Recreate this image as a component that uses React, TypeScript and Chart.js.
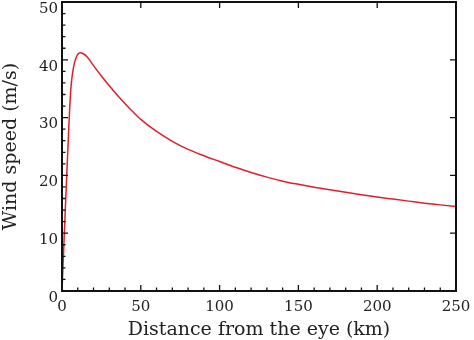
import React, { useEffect, useRef } from "react";
import { Chart, registerables } from "chart.js";

Chart.register(...registerables);

const distanceKm = [0, 1, 2, 3, 4, 4.8, 5.8, 7.3, 9, 11.6, 13.7, 16, 20, 25, 30, 35, 40, 45, 50, 60, 70, 80, 90, 100, 110, 120, 130, 140, 150, 160, 170, 180, 190, 200, 210, 220, 230, 240, 250];
const windSpeed = [0, 6.8, 13.5, 20, 26.3, 31.2, 35.6, 38.7, 40.4, 41.2, 41.0, 40.5, 39.0, 37.2, 35.5, 33.9, 32.4, 31.0, 29.7, 27.6, 25.9, 24.5, 23.4, 22.4, 21.4, 20.5, 19.7, 19.0, 18.45, 17.95, 17.5, 17.1, 16.65, 16.25, 15.9, 15.55, 15.2, 14.9, 14.6];

const xTicks = [0, 50, 100, 150, 200, 250];
const yTicks = [0, 10, 20, 30, 40, 50];
const xMinorStep = 10;
const yMinorStep = 2;

const xTitle = "Distance from the eye (km)";
const yTitle = "Wind speed (m/s)";

const FONT = "'DejaVu Serif', serif";
const TEXT = "#222";

const framePlugin = {
  id: "frameTicks",
  afterDraw(chart: any) {
    const { ctx, chartArea } = chart;
    const xs = chart.scales.x;
    const ys = chart.scales.y;
    const { left, right, top, bottom } = chartArea;
    const major = 6;
    const minor = 3.5;
    ctx.save();
    ctx.strokeStyle = "#111";
    ctx.lineWidth = 1.3;
    ctx.beginPath();
    for (let v = xs.min; v <= xs.max + 1e-9; v += xMinorStep) {
      const px = xs.getPixelForValue(v);
      const isMajor = xTicks.includes(v);
      ctx.moveTo(px, bottom);
      ctx.lineTo(px, bottom - (isMajor ? major : minor));
      if (isMajor) {
        ctx.moveTo(px, top);
        ctx.lineTo(px, top + major);
      }
    }
    for (let v = ys.min; v <= ys.max + 1e-9; v += yMinorStep) {
      const py = ys.getPixelForValue(v);
      const isMajor = yTicks.includes(v);
      ctx.moveTo(left, py);
      ctx.lineTo(left + (isMajor ? major : minor), py);
      if (isMajor) {
        ctx.moveTo(right, py);
        ctx.lineTo(right - major, py);
      }
    }
    ctx.stroke();
    ctx.lineWidth = 2;
    ctx.strokeRect(left, top, right - left, bottom - top);
    ctx.restore();
  },
};

export default function App() {
  const ref = useRef<HTMLCanvasElement | null>(null);
  useEffect(() => {
    if (!ref.current) return;
    const chart = new Chart(ref.current, {
      type: "line",
      data: {
        datasets: [
          {
            data: distanceKm.map((x, i) => ({ x, y: windSpeed[i] })),
            borderColor: "rgb(222,32,44)",
            borderWidth: 1.5,
            pointRadius: 0,
            cubicInterpolationMode: "monotone",
            fill: false,
          },
        ],
      },
      options: {
        animation: false,
        responsive: false,
        maintainAspectRatio: false,
        layout: { padding: { top: 2, right: 18, left: 0, bottom: 0 } },
        plugins: { legend: { display: false }, tooltip: { enabled: false } },
        scales: {
          x: {
            type: "linear",
            min: 0,
            max: 250,
            grid: { display: false, drawTicks: false },
            border: { display: false },
            ticks: {
              stepSize: 50,
              padding: 7,
              color: TEXT,
              font: { family: FONT, size: 15 },
              maxRotation: 0,
            },
            title: {
              display: true,
              text: xTitle,
              color: TEXT,
              font: { family: FONT, size: 19, lineHeight: 1 },
              padding: { top: 0, bottom: 0.5 },
            },
            afterFit(scale: any) {
              scale.height = 49;
              scale.paddingLeft = 0;
              scale.paddingRight = 0;
            },
          },
          y: {
            min: 0,
            max: 50,
            grid: { display: false, drawTicks: false },
            border: { display: false },
            ticks: {
              stepSize: 10,
              padding: 4,
              labelOffset: 7,
              color: TEXT,
              font: { family: FONT, size: 15 },
            },
            title: {
              display: true,
              text: yTitle,
              color: TEXT,
              font: { family: FONT, size: 19, lineHeight: 1 },
              padding: { top: 2, bottom: 0 },
            },
            afterFit(scale: any) {
              scale.width = 62;
              scale.paddingTop = 0;
              scale.paddingBottom = 0;
            },
          },
        },
      },
      plugins: [framePlugin],
    } as any);
    return () => chart.destroy();
  }, []);
  return (
    <div style={{ position: "fixed", left: 0, top: 0, width: 474, height: 340, background: "#fff" }}>
      <canvas ref={ref} width={474} height={340} style={{ width: 474, height: 340 }} />
    </div>
  );
}
